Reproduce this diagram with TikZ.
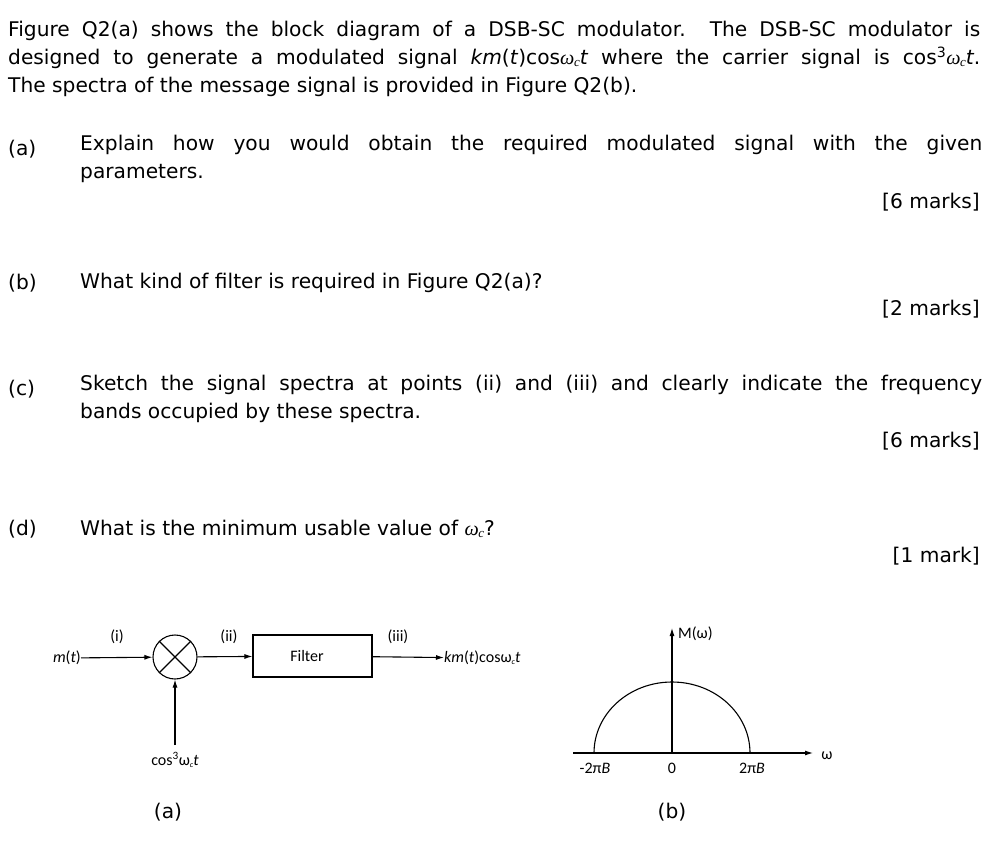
\documentclass[tikz,border=0pt]{standalone}
\usepackage{fontspec}
\setmainfont{DejaVu Sans}
\newfontfamily\smallf{Carlito}
\newfontfamily\ser{Liberation Serif}
\newcommand{\wc}{{\ser\itshape ω\kern-0.5pt\raisebox{-0.25ex}{\fontsize{13}{13}\selectfont c}}}
\usetikzlibrary{arrows.meta}
\begin{document}
\begin{tikzpicture}[x=1pt,y=-1pt,
  txt/.style={anchor=west,inner sep=0pt,font=\fontsize{20.2}{28}\selectfont},
  par/.style={anchor=north west,inner sep=0pt,text width=#1,align=justify,font=\fontsize{20.2}{28}\selectfont},
  mk/.style={anchor=east,inner sep=0pt,font=\fontsize{20.2}{28}\selectfont},
  dl/.style={inner sep=0pt,font=\smallf\fontsize{16}{18}\selectfont},
  arr/.style={-{Latex[length=8pt,width=5pt]},line width=1.1pt},
  ln/.style={line width=1.1pt}]
\useasboundingbox (0,0) rectangle (1000,842);
\node[par=972pt] (p0) at (8,21) {Figure Q2(a) shows the block diagram of a DSB-SC modulator.\ \ The DSB-SC modulator is\linebreak designed to generate a modulated signal \textit{km}(\textit{t})cos\wc\textit{t} where the carrier signal is cos\textsuperscript{3}\wc\textit{t}.\linebreak The spectra of the message signal is provided in Figure Q2(b).};
\node[txt] (la) at (8,149) {(a)};
\node[par=902pt] (pa) at (80,135) {Explain how you would obtain the required modulated signal with the given\linebreak parameters.};
\node[mk] (ma) at (980,202) {[6 marks]};
\node[txt] (lb) at (8,283) {(b)};
\node[txt] (pb) at (80,283) {What kind of filter is required in Figure Q2(a)?};
\node[mk] (mb) at (980,309) {[2 marks]};
\node[txt] (lc) at (8,389) {(c)};
\node[par=902pt] (pc) at (80,375) {Sketch the signal spectra at points (ii) and (iii) and clearly indicate the frequency\linebreak bands occupied by these spectra.};
\node[mk] (mc) at (980,441) {[6 marks]};
\node[txt] (ld) at (8,529) {(d)};
\node[txt] (pd) at (80,529) {What is the minimum usable value of \wc?};
\node[mk] (md) at (980,556) {[1 mark]};
% block diagram
\node[dl,anchor=east] (m) at (81,658) {\textit{m}(\textit{t})};
\node[draw,circle,line width=1.1pt,minimum size=44pt,inner sep=0pt] (x) at (175,657) {};
\draw[ln] (x.north west) -- (x.south east) (x.north east) -- (x.south west);
\node[draw,line width=1.1pt,minimum width=119pt,minimum height=42pt,inner sep=0pt] (f) at (312.5,656) {};
\node[dl] (ft) at (307,656) {Filter};
\node[dl,anchor=west] (out) at (444,658) {\textit{km}(\textit{t})cosω\raisebox{-0.3ex}{\footnotesize\textit{c}}\textit{t}};
\node[dl] (c) at (175,760) {cos\textsuperscript{3}ω\raisebox{-0.3ex}{\footnotesize\textit{c}}\textit{t}};
\node[dl] (i) at (117,637) {(i)};
\node[dl] (ii) at (229,637) {(ii)};
\node[dl] (iii) at (398,637) {(iii)};
\coordinate (cb) at (175,745);
\draw[arr] (m) -- (x);
\draw[arr] (x) -- (f);
\draw[arr] (f) -- (out);
\draw[arr] (cb) -- (x);
\node[font=\fontsize{20.2}{28}\selectfont] (capa) at (168,812) {(a)};
% spectrum
\coordinate (xa0) at (573,753); \coordinate (xa1) at (813,753);
\coordinate (ya1) at (672,628);
\draw[arr] (xa0) -- (xa1);
\draw[arr] (672,753) -- (ya1);
\draw[ln] (594,753) arc[start angle=180,end angle=0,x radius=78,y radius=-71];
\node[dl,anchor=west] (mw) at (678,634) {M(ω)};
\node[dl] (w) at (827,756) {ω};
\node[dl] (t1) at (595,768) {-2π\textit{B}};
\node[dl] (t2) at (672,768) {0};
\node[dl] (t3) at (752,768) {2π\textit{B}};
\node[font=\fontsize{20.2}{28}\selectfont] (capb) at (672,812) {(b)};
\end{tikzpicture}
\end{document}
